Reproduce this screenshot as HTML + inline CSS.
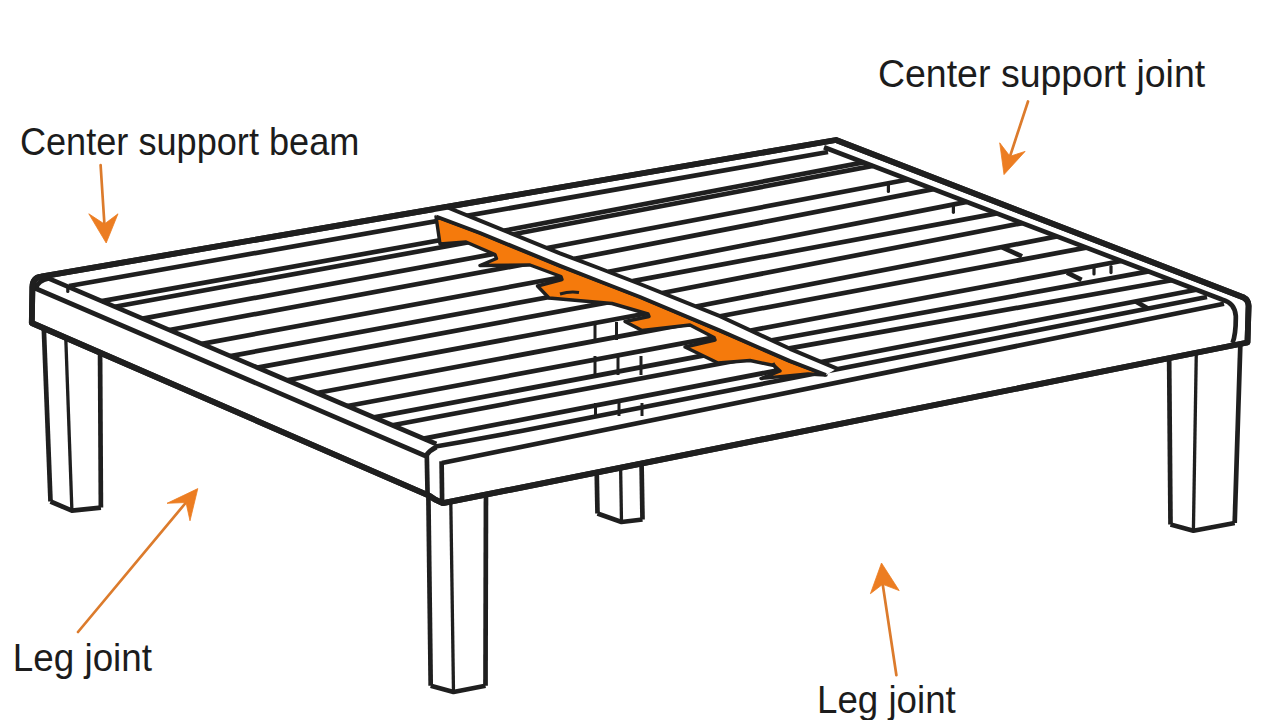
<!DOCTYPE html>
<html><head><meta charset="utf-8"><style>
html,body{margin:0;padding:0;background:#fff;width:1280px;height:720px;overflow:hidden}
svg{display:block}
text{font-family:"Liberation Sans",sans-serif;font-size:39px;fill:#1c1c1c}
</style></head><body>
<svg width="1280" height="720" viewBox="0 0 1280 720">
<rect width="1280" height="720" fill="#fff"/>
<line x1="43.5" y1="320.0" x2="50.5" y2="501.5" stroke="#1f1f1f" stroke-width="4.7" stroke-linecap="butt"/>
<line x1="65.5" y1="330.0" x2="71.9" y2="510.7" stroke="#1f1f1f" stroke-width="3.3" stroke-linecap="butt"/>
<line x1="100.0" y1="340.0" x2="100.9" y2="507.6" stroke="#1f1f1f" stroke-width="4.7" stroke-linecap="butt"/>
<path d="M50.5,501.5 L71.9,510.7 L100.9,507.6" stroke="#1f1f1f" stroke-width="4.7" fill="none" stroke-linejoin="round"/>
<line x1="428.2" y1="480.0" x2="430.7" y2="685.8" stroke="#1f1f1f" stroke-width="4.7" stroke-linecap="butt"/>
<line x1="450.5" y1="480.0" x2="453.5" y2="692.0" stroke="#1f1f1f" stroke-width="3.3" stroke-linecap="butt"/>
<line x1="486.0" y1="480.0" x2="485.5" y2="685.8" stroke="#1f1f1f" stroke-width="4.7" stroke-linecap="butt"/>
<path d="M430.7,685.8 L453.5,692.0 L485.5,685.8" stroke="#1f1f1f" stroke-width="4.7" fill="none" stroke-linejoin="round"/>
<line x1="596.5" y1="460.0" x2="597.5" y2="513.5" stroke="#1f1f1f" stroke-width="4.7" stroke-linecap="butt"/>
<line x1="620.5" y1="460.0" x2="621.5" y2="522.0" stroke="#1f1f1f" stroke-width="3.3" stroke-linecap="butt"/>
<line x1="641.5" y1="460.0" x2="642.5" y2="519.5" stroke="#1f1f1f" stroke-width="4.7" stroke-linecap="butt"/>
<path d="M597.5,513.5 L621.5,522.0 L642.5,519.5" stroke="#1f1f1f" stroke-width="4.7" fill="none" stroke-linejoin="round"/>
<line x1="1169.0" y1="340.0" x2="1170.5" y2="524.6" stroke="#1f1f1f" stroke-width="4.7" stroke-linecap="butt"/>
<line x1="1196.5" y1="340.0" x2="1193.4" y2="530.7" stroke="#1f1f1f" stroke-width="3.3" stroke-linecap="butt"/>
<line x1="1240.8" y1="330.0" x2="1234.7" y2="523.0" stroke="#1f1f1f" stroke-width="4.7" stroke-linecap="butt"/>
<path d="M1170.5,524.6 L1193.4,530.7 L1234.7,523.0" stroke="#1f1f1f" stroke-width="4.7" fill="none" stroke-linejoin="round"/>
<path d="M836,140 L41,276.6 Q32.8,277.5 32.4,287 L31.8,323 L429,495.6 Q435,500.5 443,503.2 L1247.5,342.5 L1248.6,306 Q1248.6,300 1243,297.2 Z" stroke="#1f1f1f" stroke-width="5.8" fill="#ffffff" stroke-linejoin="round" />
<line x1="595.0" y1="322.0" x2="595.0" y2="340.0" stroke="#1f1f1f" stroke-width="3" stroke-linecap="butt"/>
<line x1="616.5" y1="322.0" x2="616.5" y2="340.0" stroke="#1f1f1f" stroke-width="3" stroke-linecap="butt"/>
<line x1="595.0" y1="356.0" x2="595.0" y2="375.0" stroke="#1f1f1f" stroke-width="3" stroke-linecap="butt"/>
<line x1="618.0" y1="356.0" x2="618.0" y2="375.0" stroke="#1f1f1f" stroke-width="3" stroke-linecap="butt"/>
<line x1="641.0" y1="356.0" x2="641.0" y2="375.0" stroke="#1f1f1f" stroke-width="3" stroke-linecap="butt"/>
<line x1="595.5" y1="403.0" x2="595.5" y2="416.0" stroke="#1f1f1f" stroke-width="3" stroke-linecap="butt"/>
<line x1="619.0" y1="403.0" x2="619.0" y2="416.0" stroke="#1f1f1f" stroke-width="3" stroke-linecap="butt"/>
<line x1="642.0" y1="403.0" x2="642.0" y2="416.0" stroke="#1f1f1f" stroke-width="3" stroke-linecap="butt"/>
<line x1="101.7" y1="301.1" x2="480.0" y2="233.0" stroke="#1f1f1f" stroke-width="4.7" stroke-linecap="butt"/>
<line x1="114.7" y1="306.7" x2="492.2" y2="238.0" stroke="#1f1f1f" stroke-width="4.7" stroke-linecap="butt"/>
<line x1="142.6" y1="318.6" x2="519.6" y2="249.2" stroke="#1f1f1f" stroke-width="4.7" stroke-linecap="butt"/>
<line x1="169.3" y1="330.0" x2="546.4" y2="260.2" stroke="#1f1f1f" stroke-width="4.7" stroke-linecap="butt"/>
<line x1="201.8" y1="343.9" x2="580.4" y2="273.8" stroke="#1f1f1f" stroke-width="4.7" stroke-linecap="butt"/>
<line x1="230.4" y1="356.1" x2="610.8" y2="285.7" stroke="#1f1f1f" stroke-width="4.7" stroke-linecap="butt"/>
<line x1="257.4" y1="367.6" x2="639.0" y2="296.6" stroke="#1f1f1f" stroke-width="4.7" stroke-linecap="butt"/>
<line x1="287.0" y1="380.2" x2="669.0" y2="309.2" stroke="#1f1f1f" stroke-width="4.7" stroke-linecap="butt"/>
<line x1="316.8" y1="393.0" x2="698.6" y2="321.6" stroke="#1f1f1f" stroke-width="4.7" stroke-linecap="butt"/>
<line x1="347.4" y1="406.0" x2="729.2" y2="334.6" stroke="#1f1f1f" stroke-width="4.7" stroke-linecap="butt"/>
<line x1="374.1" y1="417.4" x2="754.8" y2="345.9" stroke="#1f1f1f" stroke-width="4.7" stroke-linecap="butt"/>
<line x1="392.4" y1="425.2" x2="772.8" y2="353.7" stroke="#1f1f1f" stroke-width="4.7" stroke-linecap="butt"/>
<line x1="423.6" y1="438.6" x2="1196.3" y2="289.7" stroke="#1f1f1f" stroke-width="4.7" stroke-linecap="butt"/>
<line x1="504.4" y1="230.6" x2="863.4" y2="162.4" stroke="#1f1f1f" stroke-width="4.7" stroke-linecap="butt"/>
<line x1="513.3" y1="234.2" x2="872.7" y2="165.9" stroke="#1f1f1f" stroke-width="4.7" stroke-linecap="butt"/>
<line x1="547.1" y1="248.0" x2="908.1" y2="179.5" stroke="#1f1f1f" stroke-width="4.7" stroke-linecap="butt"/>
<line x1="574.4" y1="258.8" x2="933.4" y2="189.1" stroke="#1f1f1f" stroke-width="4.7" stroke-linecap="butt"/>
<line x1="608.4" y1="271.8" x2="966.7" y2="201.9" stroke="#1f1f1f" stroke-width="4.7" stroke-linecap="butt"/>
<line x1="632.6" y1="281.1" x2="996.8" y2="213.4" stroke="#1f1f1f" stroke-width="4.7" stroke-linecap="butt"/>
<line x1="662.3" y1="293.0" x2="1022.3" y2="223.1" stroke="#1f1f1f" stroke-width="4.7" stroke-linecap="butt"/>
<line x1="695.8" y1="306.5" x2="1057.0" y2="236.4" stroke="#1f1f1f" stroke-width="4.7" stroke-linecap="butt"/>
<line x1="720.0" y1="316.2" x2="1086.2" y2="247.6" stroke="#1f1f1f" stroke-width="4.7" stroke-linecap="butt"/>
<line x1="750.7" y1="330.5" x2="1121.3" y2="261.0" stroke="#1f1f1f" stroke-width="4.7" stroke-linecap="butt"/>
<line x1="771.9" y1="340.3" x2="1148.6" y2="271.4" stroke="#1f1f1f" stroke-width="4.7" stroke-linecap="butt"/>
<line x1="789.3" y1="348.4" x2="1171.9" y2="280.3" stroke="#1f1f1f" stroke-width="4.7" stroke-linecap="butt"/>
<line x1="1002.2" y1="247.3" x2="1022.0" y2="256.4" stroke="#1f1f1f" stroke-width="4.7" stroke-linecap="butt"/>
<line x1="1067.0" y1="272.6" x2="1081.6" y2="279.8" stroke="#1f1f1f" stroke-width="4.7" stroke-linecap="butt"/>
<line x1="1135.7" y1="301.5" x2="1148.4" y2="308.7" stroke="#1f1f1f" stroke-width="4.7" stroke-linecap="butt"/>
<line x1="888.4" y1="183.5" x2="888.4" y2="191.4" stroke="#1f1f1f" stroke-width="3.2" stroke-linecap="round"/>
<line x1="953.4" y1="205.5" x2="953.4" y2="212.3" stroke="#1f1f1f" stroke-width="3.2" stroke-linecap="round"/>
<line x1="1094.0" y1="268.5" x2="1094.0" y2="274.0" stroke="#1f1f1f" stroke-width="3.2" stroke-linecap="round"/>
<line x1="1111.0" y1="266.5" x2="1111.0" y2="272.6" stroke="#1f1f1f" stroke-width="3.2" stroke-linecap="round"/>
<line x1="67.8" y1="287.0" x2="67.8" y2="291.5" stroke="#1f1f1f" stroke-width="3.2" stroke-linecap="round"/>
<line x1="69.0" y1="286.0" x2="828.0" y2="152.0" stroke="#1f1f1f" stroke-width="4.7" stroke-linecap="butt"/>
<path d="M425.6,456 L35.7,288.5 Q38,280.5 48.5,278.4 L436.3,444" stroke="#1f1f1f" stroke-width="4.7" fill="none" stroke-linejoin="round" />
<path d="M425.6,456 Q430,450 436.5,447" stroke="#1f1f1f" stroke-width="4.7" fill="none" stroke-linejoin="round" />
<line x1="426.8" y1="454.5" x2="427.6" y2="496.5" stroke="#1f1f1f" stroke-width="4.7" stroke-linecap="butt"/>
<line x1="441.6" y1="461.3" x2="442.1" y2="501.5" stroke="#1f1f1f" stroke-width="4.7" stroke-linecap="butt"/>
<line x1="441.9" y1="463.0" x2="1224.0" y2="303.8" stroke="#1f1f1f" stroke-width="4.7" stroke-linecap="butt"/>
<path d="M435.6,446.5 L460.0,442.3 L520.0,431.2 L1000.0,337.5 L1207.0,297.0" stroke="#1f1f1f" stroke-width="4.7" fill="none" stroke-linejoin="round"/>
<path d="M824,147.3 L1222,299.5 Q1235,303 1235.8,316 Q1236,334 1232.5,343" stroke="#1f1f1f" stroke-width="4.7" fill="none" stroke-linejoin="round" />
<path d="M440.0,244.0 L466.0,242.0 L495.0,254.5 L496.5,258.5 L480.0,265.5 L530.0,265.0 L561.0,276.5 L562.0,279.5 L537.5,286.0 L549.0,298.0 L612.0,303.5 L648.0,314.0 L649.0,316.5 L625.0,321.5 L642.0,330.5 L690.0,325.0 L714.0,337.5 L715.0,340.0 L685.0,347.0 L718.0,363.0 L750.0,360.5 L774.0,365.5 L780.0,371.0 L761.0,378.5 L808.0,374.0 L826.0,375.0 L790.0,361.2 L720.0,330.6 L640.0,297.0 L600.0,281.5 L560.0,265.8 L480.0,233.0 L436.0,216.5 Z" stroke="#1f1f1f" stroke-width="3.4" fill="#f57a0c" stroke-linejoin="round"/>
<path d="M560,294 Q570,291 579,292.5" stroke="#1f1f1f" stroke-width="3.2" fill="none" stroke-linejoin="round" />
<path d="M773,363 L776,369" stroke="#1f1f1f" stroke-width="3" fill="none" stroke-linejoin="round" />
<path d="M434.0,209.5 L444.0,206.0 L480.0,220.6 L560.0,253.3 L600.0,268.5 L640.0,284.0 L720.0,316.2 L790.0,348.8 L837.0,368.6 L826.0,375.0 L826.0,375.0 L790.0,361.2 L720.0,330.6 L640.0,297.0 L600.0,281.5 L560.0,265.8 L480.0,233.0 L436.0,216.5 Z" stroke="#fff" stroke-width="0.01" fill="#ffffff" stroke-linejoin="round"/>
<path d="M444.0,206.0 L480.0,220.6 L560.0,253.3 L600.0,268.5 L640.0,284.0 L720.0,316.2 L790.0,348.8 L837.0,368.6" stroke="#1f1f1f" stroke-width="4.0" fill="none" stroke-linejoin="round"/>
<path d="M436.0,216.5 L480.0,233.0 L560.0,265.8 L600.0,281.5 L640.0,297.0 L720.0,330.6 L790.0,361.2 L826.0,375.0" stroke="#1f1f1f" stroke-width="4.0" fill="none" stroke-linejoin="round"/>
<path d="M836,140 L41,276.6 Q32.8,277.5 32.4,287 L31.8,323 L429,495.6 Q435,500.5 443,503.2 L1247.5,342.5 L1248.6,306 Q1248.6,300 1243,297.2 Z" stroke="#1f1f1f" stroke-width="5.8" fill="none" stroke-linejoin="round" />
<line x1="100.6" y1="165.0" x2="104.4" y2="224.0" stroke="#dc7b2c" stroke-width="2.7" stroke-linecap="round"/>
<path d="M106.2,243.0 L88.8,213.8 L104.4,224.0 L118.0,213.8 Z" stroke="#ec7d22" stroke-width="0.8" fill="#ec7d22" stroke-linejoin="round"/>
<line x1="1028.0" y1="101.5" x2="1010.0" y2="156.3" stroke="#dc7b2c" stroke-width="2.7" stroke-linecap="round"/>
<path d="M1004.0,174.6 L999.7,142.8 L1010.0,156.3 L1025.1,151.4 Z" stroke="#ec7d22" stroke-width="0.8" fill="#ec7d22" stroke-linejoin="round"/>
<line x1="78.0" y1="632.0" x2="186.0" y2="502.5" stroke="#dc7b2c" stroke-width="2.7" stroke-linecap="round"/>
<path d="M197.8,488.6 L167.0,503.3 L186.0,502.5 L190.0,520.8 Z" stroke="#ec7d22" stroke-width="0.8" fill="#ec7d22" stroke-linejoin="round"/>
<line x1="896.4" y1="675.2" x2="882.7" y2="584.3" stroke="#dc7b2c" stroke-width="2.7" stroke-linecap="round"/>
<path d="M881.5,563.0 L870.4,593.7 L882.7,584.3 L899.2,590.6 Z" stroke="#ec7d22" stroke-width="0.8" fill="#ec7d22" stroke-linejoin="round"/>
<text x="19.9" y="155.0" textLength="339.5" lengthAdjust="spacingAndGlyphs">Center support beam</text><text x="877.9" y="86.6" textLength="327.3" lengthAdjust="spacingAndGlyphs">Center support joint</text><text x="12.8" y="670.6" textLength="139.2" lengthAdjust="spacingAndGlyphs">Leg joint</text><text x="817.0" y="712.5" textLength="138.8" lengthAdjust="spacingAndGlyphs">Leg joint</text>
</svg>
</body></html>
